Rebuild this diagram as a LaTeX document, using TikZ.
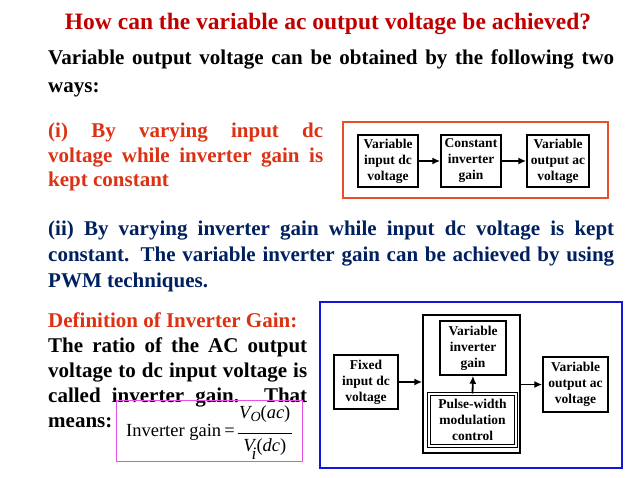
\documentclass[tikz,border=0pt]{standalone}
\usepackage{fontspec}
\setmainfont{Liberation Serif}
\usetikzlibrary{arrows.meta}
\definecolor{titlered}{RGB}{192,0,0}
\definecolor{ired}{RGB}{220,50,20}
\definecolor{iiblue}{RGB}{0,32,96}
\definecolor{frameorange}{RGB}{230,80,40}
\definecolor{frameblue}{RGB}{20,20,220}
\definecolor{framemag}{RGB}{230,80,230}
\begin{document}
\begin{tikzpicture}[x=1pt,y=-1pt,
  blk/.style={draw,line width=1.5pt,align=center,font=\fontsize{13.5}{16}\selectfont\bfseries,inner sep=0pt},
  arr/.style={-{Latex[length=8pt,width=7pt]},line width=1.8pt},
  para/.style={anchor=north west,align=justify,font=\fontsize{21}{25.5}\selectfont\bfseries,inner sep=0pt}]
\useasboundingbox (0,0) rectangle (638,478);
\node[font=\fontsize{23.5}{26}\selectfont\bfseries,text=titlered] (title) at (328,24) {How can the variable ac output voltage be achieved?};
\node[para,text width=566,font=\fontsize{21}{28}\selectfont\bfseries] (p1) at (48,50) {Variable output voltage can be obtained by the following two\linebreak ways:};
\node[para,text width=275,text=ired,font=\fontsize{21}{24.5}\selectfont\bfseries] (p2) at (48,123) {(i) By varying input dc\linebreak voltage while inverter gain is\linebreak kept constant};
\node[para,text width=566,text=iiblue,font=\fontsize{21}{26}\selectfont\bfseries] (p3) at (48,221) {(ii) By varying inverter gain while input dc voltage is kept\linebreak constant. The variable inverter gain can be achieved by using\linebreak PWM techniques.};
\node[para,text width=259,text=ired] (p4) at (48,313) {Definition of Inverter Gain:};
\node[para,text width=259,font=\fontsize{21}{24.8}\selectfont\bfseries] (p5) at (48,338) {The ratio of the AC output\linebreak voltage to dc input voltage is\linebreak called inverter gain. That\linebreak means:};
% formula
\node[draw=framemag,line width=0.8pt,minimum width=186,minimum height=61,anchor=north west,inner sep=0pt] (fbox) at (116,400) {};
\node[font=\fontsize{18.5}{20}\selectfont,inner sep=0pt] (form) at (209,432) {Inverter gain\,=\,\begin{tabular}{@{}c@{}}\itshape V\raisebox{-3pt}{\fontsize{14}{14}\selectfont O}\upshape(\itshape ac\upshape)\\[-5pt]\rule{54pt}{0.8pt}\\[-2pt]\itshape V\raisebox{-8pt}{\fontsize{17.5}{18}\selectfont\kern-3pt i}\upshape(\itshape dc\upshape)\end{tabular}};
% upper diagram
\draw[frameorange,line width=1.3pt] (343,122) rectangle (608,198);
\node[blk,minimum width=60,minimum height=52] (a1) at (388,161) {Variable\\input dc\\voltage};
\node[blk,minimum width=60,minimum height=52] (a2) at (471,161) {Constant\\inverter\\gain};
\node[blk,minimum width=62,minimum height=52] (a3) at (558,161) {Variable\\output ac\\voltage};
\draw[arr] (a1) -- (a2);
\draw[arr] (a2) -- (a3);
% lower diagram
\draw[frameblue,line width=1.8pt] (320,302) rectangle (622,468);
\node[blk,minimum width=64,minimum height=54] (b1) at (366,382) {Fixed\\input dc\\voltage};
\node[draw,line width=1.5pt,minimum width=97,minimum height=138,inner sep=0pt] (big) at (471.5,384) {};
\node[blk,minimum width=66,minimum height=54] (b2) at (473,348) {Variable\\inverter\\gain};
\node[blk,double,double distance=1.5pt,line width=1pt,minimum width=87,minimum height=52] (b3) at (472.5,420) {Pulse-width\\modulation\\control};
\node[blk,minimum width=65,minimum height=55] (b4) at (575.5,384.5) {Variable\\output ac\\voltage};
\draw[arr] (b1.east) -- (big.west |- b1.east);
\draw[arr] (big.east |- b4.west) -- (b4.west);
\draw[arr] (b3.north) -- (b2.south);
\end{tikzpicture}
\end{document}
